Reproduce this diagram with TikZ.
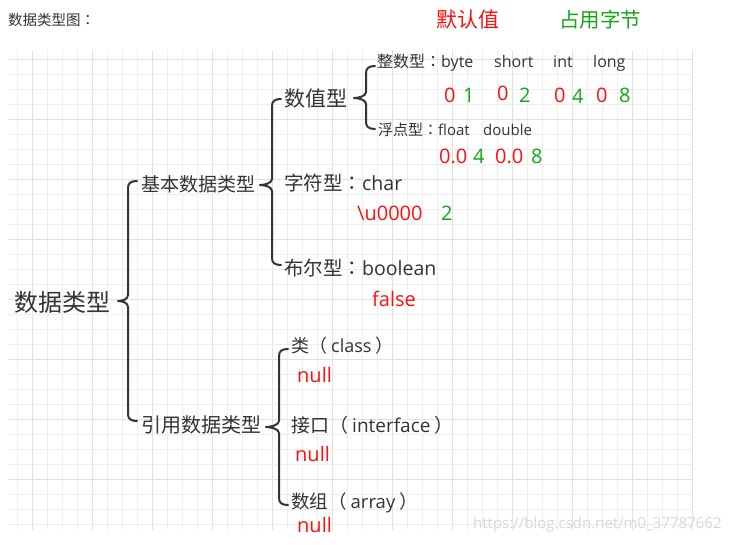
\documentclass[tikz,border=0pt]{standalone}
\usepackage{fontspec}
\setmainfont{Open Sans}
\newfontfamily\cjk{Noto Sans CJK SC}
\newfontfamily\cjkp{Noto Sans CJK TC}
\definecolor{ink}{HTML}{333333}
\definecolor{dred}{HTML}{FF1010}
\definecolor{dgreen}{HTML}{14A814}
\definecolor{gminor}{HTML}{EEEEEE}
\definecolor{gmajor}{HTML}{E0E0E0}
\definecolor{wm}{HTML}{D8D8D8}
\tikzset{
  lbl/.style={anchor=west,inner sep=0pt,text=ink},
  redv/.style={anchor=west,inner sep=0pt,text=dred,font=\fontsize{20}{22}\selectfont},
  grnv/.style={anchor=west,inner sep=0pt,text=dgreen,font=\fontsize{20}{22}\selectfont},
  brace/.style={draw=ink,line width=2pt,line join=round,line cap=round},
}
\newcommand\mybrace[5]{%
  \draw[brace] (#1+9,#3) .. controls (#1+3,#3) and (#1,#3+2) .. (#1,#3+7)
    -- (#1,#4-6) .. controls (#1,#4-2) and (#2+5,#4) .. (#2,#4)
    .. controls (#2+5,#4) and (#1,#4+2) .. (#1,#4+6)
    -- (#1,#5-7) .. controls (#1,#5-2) and (#1+3,#5) .. (#1+9,#5);}
\begin{document}
\begin{tikzpicture}[x=1pt,y=-1pt]
\useasboundingbox[fill=white] (0,0) rectangle (730,545);
% grid
\foreach \i in {0,...,45}{
  \pgfmathtruncatemacro\m{mod(\i+3,4)}
  \ifnum\m=0 \draw[gmajor,line width=1pt] (17.3+15*\i,50) -- (17.3+15*\i,530);
  \else \draw[gminor,line width=1pt] (17.3+15*\i,50) -- (17.3+15*\i,530); \fi
}
\foreach \j in {0,...,31}{
  \pgfmathtruncatemacro\m{mod(\j,4)}
  \ifnum\m=0 \draw[gmajor,line width=1pt] (8,59.3+15*\j) -- (693,59.3+15*\j);
  \else \draw[gminor,line width=1pt] (8,59.3+15*\j) -- (693,59.3+15*\j); \fi
}
% header
\node[lbl,font=\cjk\fontsize{14.5}{16}\selectfont] (title) at (8,20) {数据类型图{\cjkp ：}};
\node[redv,font=\cjk\fontsize{21}{23}\selectfont] (hdef) at (436,20) {默认值};
\node[grnv,font=\cjk\fontsize{20.5}{23}\selectfont] (hbyte) at (559,20) {占用字节};
% tree
\node[lbl,font=\cjk\fontsize{24}{26}\selectfont] (root) at (14,302) {数据类型};
\node[lbl,font=\cjk\fontsize{19}{21}\selectfont] (basic) at (141,184) {基本数据类型};
\node[lbl,font=\cjk\fontsize{20}{22}\selectfont] (ref) at (141,425) {引用数据类型};
\node[lbl,font=\cjk\fontsize{21}{23}\selectfont] (num) at (284,99) {数值型};
\node[lbl,font=\fontsize{16}{18}\selectfont] (int) at (377,63)
  {\makebox[64pt][l]{\cjk 整数型\cjkp ：}\makebox[53pt][l]{byte}\makebox[59pt][l]{short}\makebox[40pt][l]{int}long};
\node[lbl,font=\fontsize{15}{17}\selectfont] (flt) at (378,130)
  {\makebox[60pt][l]{\cjk 浮点型\cjkp ：}\makebox[45pt][l]{float}double};
\node[lbl,font=\fontsize{19.5}{22}\selectfont] (chr) at (284,183) {{\cjk 字符型\cjkp ：}char};
\node[lbl,font=\fontsize{19.5}{22}\selectfont] (bool) at (284,268) {{\cjk 布尔型\cjkp ：}boolean};
\node[lbl,font=\fontsize{18}{20}\selectfont] (cls) at (291,346) {{\cjk 类\cjkp （}\hspace{4pt}class\hspace{4pt}{\cjkp ）}};
\node[lbl,font=\fontsize{19}{21}\selectfont] (ifc) at (291,425) {{\cjk 接口\cjkp （}\hspace{4pt}interface\hspace{4pt}{\cjkp ）}};
\node[lbl,font=\fontsize{18.5}{21}\selectfont] (arr) at (291,503) {{\cjk 数组\cjkp （}\hspace{4pt}array\hspace{4pt}{\cjkp ）}};
% values
\node[redv] (v1) at (444,95) {0};
\node[grnv] (v2) at (463,95) {1};
\node[redv] (v3) at (497,93) {0};
\node[grnv] (v4) at (519,95) {2};
\node[redv] (v5) at (554,95) {0};
\node[grnv] (v6) at (572,96) {4};
\node[redv] (v7) at (596,95) {0};
\node[grnv] (v8) at (619,95) {8};
\node[redv] (f1) at (439,156) {0.0};
\node[grnv] (f2) at (473,156) {4};
\node[redv] (f3) at (495,156) {0.0};
\node[grnv] (f4) at (531,156) {8};
\node[redv] (c1) at (357,213) {\textbackslash u0000};
\node[grnv] (c2) at (441,213) {2};
\node[redv] (b1) at (372,299) {false};
\node[redv] (n1) at (297,375) {null};
\node[redv] (n2) at (295,454) {null};
\node[redv] (n3) at (297,525) {null};
% braces
\mybrace{128}{118}{181}{301}{421}
\mybrace{272}{260}{99}{185}{265}
\mybrace{279}{266}{349}{427}{505}
\mybrace{366}{354}{66}{98}{129}
% watermark
\node[anchor=west,inner sep=0pt,text=wm,font=\fontsize{15}{17}\selectfont] (wmk) at (473,525) {https://blog.csdn.net/m0\_37787662};
\end{tikzpicture}
\end{document}
